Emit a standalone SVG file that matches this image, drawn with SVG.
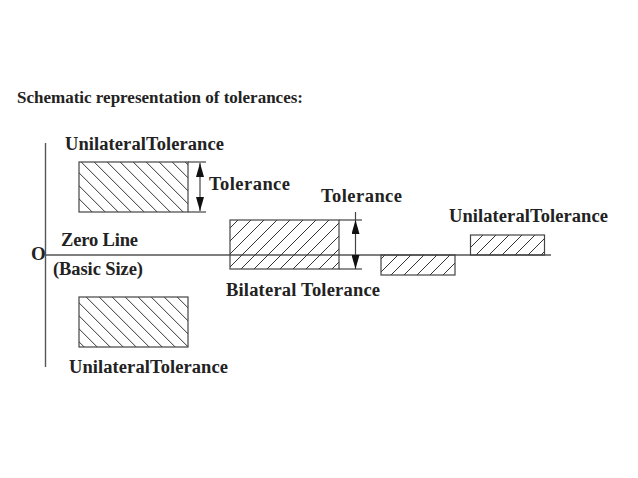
<svg xmlns="http://www.w3.org/2000/svg" width="638" height="478" viewBox="0 0 638 478">
<style>
text{font-family:"Liberation Serif","Times New Roman",serif;font-weight:bold;fill:#222;font-size:18.5px}
.box{stroke:#444;stroke-width:1.2}
.ln{stroke:#444;stroke-width:1.2;fill:none}
.axis{stroke:#555;stroke-width:1.4;fill:none}
</style>
<defs>
<pattern id="back" width="13" height="13" patternUnits="userSpaceOnUse" patternTransform="translate(10.200 0)"><path d="M-1 -1L14 14M-14 -1L1 14M12 -1L27 14" stroke="#333" stroke-width="1" fill="none"/></pattern>
<pattern id="fwd" width="13" height="13" patternUnits="userSpaceOnUse" patternTransform="translate(3 0)"><path d="M-1 14L14 -1M-14 14L1 -1M12 14L27 -1" stroke="#333" stroke-width="1" fill="none"/></pattern>
<marker id="a" viewBox="0 0 14 8" refX="14" refY="4" markerWidth="14" markerHeight="8" orient="auto-start-reverse" markerUnits="userSpaceOnUse"><path d="M0 0L14 4L0 8Z" fill="#111"/></marker>
</defs>
<text id="title" x="17" y="103" style="font-size:17px" textLength="286" lengthAdjust="spacing">Schematic representation of tolerances:</text>
<g id="connectors">
<path class="axis" d="M45.500 143V367"/>
<path class="axis" d="M45 255H551"/>
<path class="ln" d="M188 162H206"/>
<path class="ln" d="M188 212H206"/>
<path class="ln" d="M200 163V211" marker-start="url(#a)" marker-end="url(#a)"/>
<path class="ln" d="M339 220H362"/>
<path class="ln" d="M339 269H362"/>
<path class="ln" d="M355.500 212V220"/>
<path class="ln" d="M355.500 220V269" marker-start="url(#a)" marker-end="url(#a)"/>
</g>
<g id="upper-box"><rect class="box" x="79" y="162" width="109" height="50" fill="url(#back)"/></g>
<g id="lower-box"><rect class="box" x="79" y="297" width="109" height="50" fill="url(#back)"/></g>
<g id="bilateral-box"><rect class="box" x="230" y="220" width="109" height="49" fill="url(#fwd)"/></g>
<g id="negative-box"><rect class="box" x="381" y="255" width="74" height="20" fill="url(#fwd)"/></g>
<g id="positive-box"><rect class="box" x="470.500" y="235" width="74" height="20" fill="url(#fwd)"/></g>
<g id="labels">
<text x="65" y="150" textLength="159" lengthAdjust="spacing">UnilateralTolerance</text>
<text x="209" y="190" textLength="81" lengthAdjust="spacing">Tolerance</text>
<text x="321" y="202" textLength="81" lengthAdjust="spacing">Tolerance</text>
<text x="449" y="222" textLength="159" lengthAdjust="spacing">UnilateralTolerance</text>
<text x="61" y="246" textLength="77" lengthAdjust="spacing">Zero Line</text>
<text x="31" y="260" style="font-size:19px">O</text>
<text x="53" y="275" textLength="90" lengthAdjust="spacing">(Basic Size)</text>
<text x="226" y="296" textLength="154" lengthAdjust="spacing">Bilateral Tolerance</text>
<text x="69" y="373" textLength="159" lengthAdjust="spacing">UnilateralTolerance</text>
</g>
</svg>
